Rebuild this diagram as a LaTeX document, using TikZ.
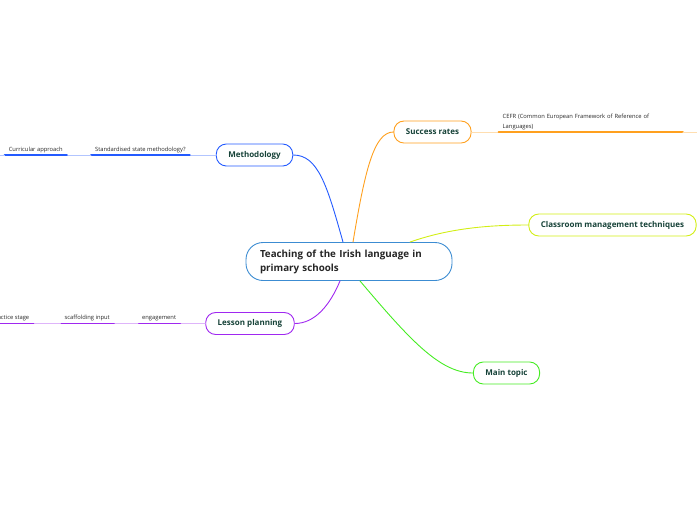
\documentclass[tikz,border=0pt]{standalone}
\usepackage{fontspec}
\setmainfont{Open Sans}
\usetikzlibrary{positioning,calc}
\definecolor{rootB}{RGB}{60,140,210}
\definecolor{methB}{RGB}{35,90,255}
\definecolor{succO}{RGB}{255,160,30}
\definecolor{clasY}{RGB}{210,238,20}
\definecolor{mainG}{RGB}{70,236,35}
\definecolor{lessP}{RGB}{160,40,240}
\definecolor{txtG}{RGB}{22,66,56}

\begin{document}
\begin{tikzpicture}[x=1pt, y=1pt, line cap=round,
  root/.style={rectangle, rounded corners=17pt, draw=rootB, fill=white, line width=0.9pt, font=\fontsize{9.8}{14}\selectfont\bfseries, text=black!85, align=left, text width=178pt, inner xsep=14pt, minimum height=38pt, minimum width=206pt},
  topic/.style={rectangle, rounded corners=10pt, draw=#1, fill=white, line width=0.9pt, font=\fontsize{8}{9}\selectfont\bfseries, text=txtG, minimum height=22pt, inner xsep=12pt},
  sub/.style={inner xsep=4pt, inner ysep=2.2pt, font=\fontsize{5.8}{10}\selectfont, text=black!85, align=left},
  ul/.style={line width=1.7pt, draw=#1},
  pale/.style={line width=0.8pt, draw=#1!35},
  link/.style={line width=0.9pt, draw=#1}]
  \useasboundingbox (0,0) rectangle (697,-520);
  \node[root] (root) at (349,-261.5) {Teaching of the Irish language in\\ primary schools};
  \node[topic=methB] (meth) at (254.5,-155) {Methodology};
  \node[topic=succO] (succ) at (432.5,-132) {Success rates};
  \node[topic=clasY] (clas) at (612.5,-225) {Classroom management techniques};
  \node[topic=mainG] (main) at (506.5,-373) {Main topic};
  \node[topic=lessP] (less) at (250,-323.5) {Lesson planning};
  % links from the root
  \draw[link=methB] ($(root.north)+(-6,0)$) .. controls (327,-185) and (318,-155) .. (meth.east);
  \draw[link=succO] ($(root.north)+(4,0)$) .. controls (365,-170) and (374,-132) .. (succ.west);
  \draw[link=clasY] ($(root.north)+(61,0)$) .. controls (450,-228) and (490,-225) .. (clas.west);
  \draw[link=mainG] ($(root.south)+(11,0)$) .. controls (410,-340) and (440,-373) .. (main.west);
  \draw[link=lessP] ($(root.south)+(-9,0)$) .. controls (330,-305) and (315,-323.5) .. (less.east);
  % methodology
  \node[sub, above left=0pt and 26pt of meth.west] (std) {Standardised state methodology?};
  \node[sub, above left=0pt and 24pt of std.south west] (cur) {Curricular approach};
  \coordinate[left=8pt of cur.south west] (curE);
  \draw[pale=methB] (meth.west) -- (std.south east);
  \draw[ul=methB] (std.south west) -- (std.south east);
  \draw[pale=methB] (std.south west) -- (cur.south east);
  \draw[ul=methB] (cur.south west) -- (cur.south east);
  \draw[pale=methB] (cur.south west) -- (curE);
  % success rates
  \node[sub, text width=176pt, above right=0pt and 27pt of succ.east] (cefr) {CEFR (Common European Framework of Reference of\\ Languages)};
  \coordinate[right=20pt of cefr.south east] (cefrE);
  \draw[pale=succO] (succ.east) -- (cefr.south west);
  \draw[ul=succO] (cefr.south west) -- (cefr.south east);
  \draw[pale=succO] (cefr.south east) -- (cefrE);
  % lesson planning
  \node[sub, above left=0pt and 25pt of less.west] (eng) {engagement};
  \node[sub, above left=0pt and 24pt of eng.south west] (scaf) {scaffolding input};
  \node[sub, above left=0pt and 27pt of scaf.south west] (prac) {Practice stage};
  \draw[pale=lessP] (less.west) -- (eng.south east);
  \draw[ul=lessP] (eng.south west) -- (eng.south east);
  \draw[pale=lessP] (eng.south west) -- (scaf.south east);
  \draw[ul=lessP] (scaf.south west) -- (scaf.south east);
  \draw[pale=lessP] (scaf.south west) -- (prac.south east);
  \draw[ul=lessP] (prac.south west) -- (prac.south east);
\end{tikzpicture}
\end{document}
